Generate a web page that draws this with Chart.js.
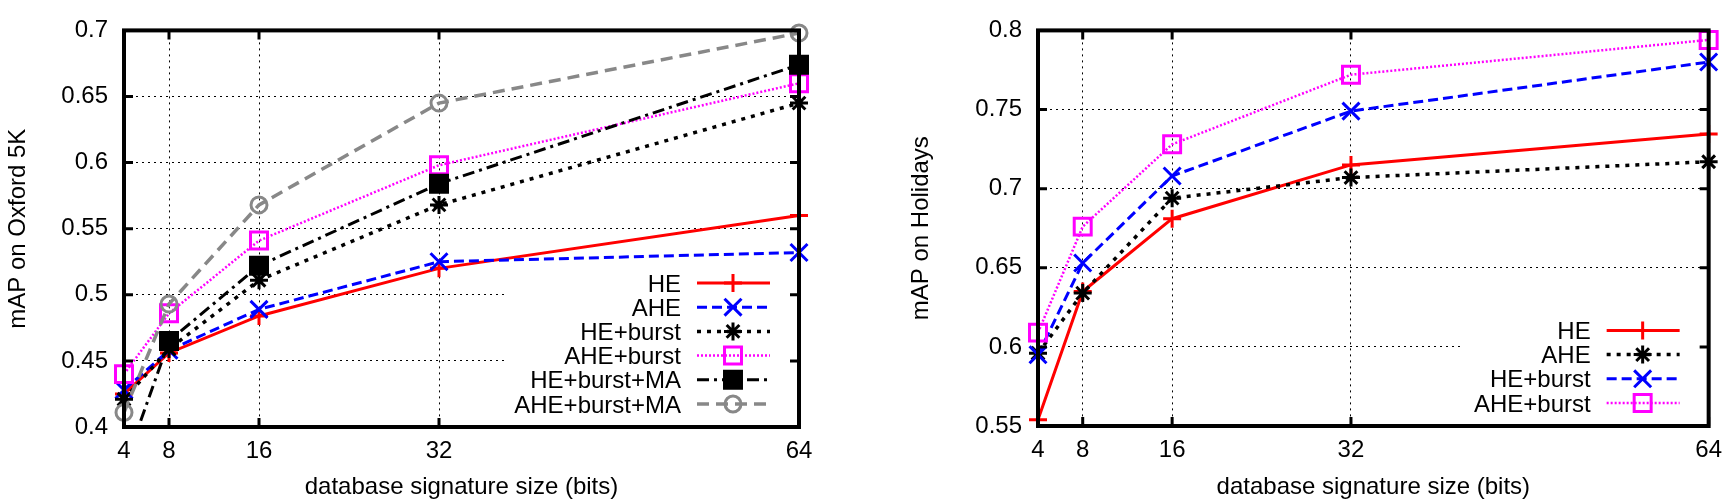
<!DOCTYPE html>
<html>
<head>
<meta charset="utf-8">
<script src="https://cdn.jsdelivr.net/npm/chart.js@4/dist/chart.umd.min.js"></script>
<style>
html, body { margin: 0; padding: 0; background: #fff; }
.panel { position: absolute; top: 0; width: 866px; height: 502px; }
</style>
</head>
<body>
<div class="panel" style="left:0"><canvas id="oxford" width="866" height="502"></canvas></div>
<div class="panel" style="left:866px"><canvas id="holidays" width="866" height="502"></canvas></div>
<script>
// signature sizes (x) and axis ticks
var bits = [4, 8, 16, 32, 64];
var oxfordTicks = [0.4, 0.45, 0.5, 0.55, 0.6, 0.65, 0.7];
var holidaysTicks = [0.55, 0.6, 0.65, 0.7, 0.75, 0.8];

// mAP on Oxford 5K
var oxHE = [0.425, 0.456, 0.484, 0.520, 0.560];
var oxAHE = [0.428, 0.458, 0.489, 0.525, 0.532];
var oxHEburst = [0.421, 0.459, 0.511, 0.568, 0.645];
var oxAHEburst = [0.440, 0.486, 0.541, 0.598, 0.660];
var oxHEburstMA = [0.369, 0.465, 0.522, 0.584, 0.674];
var oxAHEburstMA = [0.411, 0.493, 0.568, 0.645, 0.698];

// mAP on Holidays
var hoHE = [0.554, 0.635, 0.681, 0.715, 0.7345];
var hoAHE = [0.596, 0.634, 0.694, 0.707, 0.717];
var hoHEburst = [0.595, 0.653, 0.708, 0.749, 0.780];
var hoAHEburst = [0.609, 0.676, 0.728, 0.772, 0.794];

var FONT = '"Liberation Sans", Arial, Helvetica, sans-serif';
var FSIZE = 24;

function series(label, values, color, dash, width, mark, r, fill) {
  return {
    label: label,
    data: values.map(function (v, i) { return { x: bits[i], y: v }; }),
    borderColor: color,
    borderWidth: width,
    borderDash: dash,
    pointStyle: mark,
    pointRadius: r,
    pointBorderColor: color,
    pointBorderWidth: 3,
    pointBackgroundColor: fill ? color : 'rgba(0,0,0,0)',
    tension: 0,
    clip: { left: 20, top: 20, right: 20, bottom: 0 }
  };
}

function drawMark(ctx, style, x, y, r, stroke, fill, lw) {
  ctx.save();
  ctx.strokeStyle = stroke;
  ctx.fillStyle = fill;
  ctx.lineWidth = lw;
  ctx.setLineDash([]);
  ctx.beginPath();
  if (style === 'rect') {
    var s = r * Math.SQRT1_2;
    ctx.rect(x - s, y - s, 2 * s, 2 * s);
    ctx.fill();
    ctx.stroke();
  } else if (style === 'circle') {
    ctx.arc(x, y, r, 0, Math.PI * 2);
    ctx.fill();
    ctx.stroke();
  } else {
    if (style === 'cross' || style === 'star') {
      ctx.moveTo(x, y - r); ctx.lineTo(x, y + r);
      ctx.moveTo(x - r, y); ctx.lineTo(x + r, y);
    }
    if (style === 'crossRot' || style === 'star') {
      var d = r * Math.SQRT1_2;
      ctx.moveTo(x - d, y - d); ctx.lineTo(x + d, y + d);
      ctx.moveTo(x - d, y + d); ctx.lineTo(x + d, y - d);
    }
    ctx.stroke();
  }
  ctx.restore();
}

// gnuplot look: blank key area, inward ticks, heavy border, key
var gnuplotLook = {
  id: 'gnuplotLook',
  beforeDatasetsDraw: function (chart, args, opts) {
    var a = chart.chartArea, ctx = chart.ctx;
    ctx.save();
    ctx.fillStyle = '#fff';
    ctx.fillRect(opts.maskX, opts.maskY, a.right - opts.maskX, a.bottom - opts.maskY);
    ctx.restore();
  },
  afterDatasetsDraw: function (chart, args, opts) {
    var a = chart.chartArea, ctx = chart.ctx;
    var xs = chart.scales.x, ys = chart.scales.y;
    ctx.save();
    ctx.strokeStyle = '#000';
    ctx.lineWidth = 3;
    ctx.beginPath();
    xs.ticks.forEach(function (t) {
      var px = xs.getPixelForValue(t.value);
      ctx.moveTo(px, a.bottom); ctx.lineTo(px, a.bottom - 9);
      ctx.moveTo(px, a.top); ctx.lineTo(px, a.top + 9);
    });
    ys.ticks.forEach(function (t) {
      var py = ys.getPixelForValue(t.value);
      ctx.moveTo(a.left, py); ctx.lineTo(a.left + 9, py);
      ctx.moveTo(a.right, py); ctx.lineTo(a.right - 9, py);
    });
    ctx.stroke();
    ctx.lineWidth = 4;
    ctx.strokeRect(a.left, a.top, a.right - a.left, a.bottom - a.top);

    var list = chart.data.datasets, n = list.length;
    ctx.font = FSIZE + 'px ' + FONT;
    ctx.textAlign = 'right';
    ctx.textBaseline = 'alphabetic';
    list.forEach(function (ds, i) {
      var y = a.bottom - 23 - (n - 1 - i) * 24.2;
      ctx.fillStyle = '#000';
      ctx.fillText(ds.label, a.right - 118, y + 8.6);
      ctx.strokeStyle = ds.borderColor;
      ctx.lineWidth = ds.borderWidth;
      ctx.setLineDash(ds.borderDash || []);
      ctx.beginPath();
      ctx.moveTo(a.right - 102, y);
      ctx.lineTo(a.right - 29, y);
      ctx.stroke();
      ctx.setLineDash([]);
      drawMark(ctx, ds.pointStyle, a.right - 66, y, ds.pointRadius, ds.pointBorderColor, ds.pointBackgroundColor, ds.pointBorderWidth);
    });
    ctx.restore();
  }
};

function gridColor(c) {
  var v = c.tick ? c.tick.value : null;
  return (v === c.scale.min || v === c.scale.max) ? 'rgba(0,0,0,0)' : '#000';
}

function makeChart(id, sets, yTicks, yMin, yMax, yTitle, geo) {
  sets.forEach(function (ds, i) { ds.order = sets.length - i; });
  return new Chart(document.getElementById(id), {
    type: 'line',
    data: { datasets: sets },
    plugins: [gnuplotLook],
    options: {
      responsive: false,
      animation: false,
      events: [],
      devicePixelRatio: 1,
      layout: { padding: { left: 0, top: geo.top, right: geo.right, bottom: 0 } },
      plugins: {
        legend: { display: false },
        tooltip: { enabled: false },
        gnuplotLook: { maskX: geo.maskX, maskY: geo.maskY }
      },
      scales: {
        x: {
          type: 'linear', min: 4, max: 64,
          afterBuildTicks: function (s) { s.ticks = bits.map(function (v) { return { value: v }; }); },
          afterFit: function (s) { s.height = geo.xHeight; },
          grid: { color: gridColor, lineWidth: 1, drawTicks: false },
          border: { display: false, dash: [2, 4] },
          ticks: { autoSkip: false, maxRotation: 0, padding: 10, color: '#000', font: { family: FONT, size: FSIZE } },
          title: { display: true, text: 'database signature size (bits)', color: '#000', font: { family: FONT, size: FSIZE }, padding: { top: 0, bottom: 0 } }
        },
        y: {
          type: 'linear', min: yMin, max: yMax,
          afterBuildTicks: function (s) { s.ticks = yTicks.map(function (v) { return { value: v }; }); },
          afterFit: function (s) { s.width = geo.yWidth; },
          grid: { color: gridColor, lineWidth: 1, drawTicks: false },
          border: { display: false, dash: [2, 4] },
          ticks: {
            autoSkip: false, padding: 16, color: '#000', font: { family: FONT, size: FSIZE },
            callback: function (v) { return String(+Number(v).toFixed(2)); }
          },
          title: { display: true, text: yTitle, color: '#000', font: { family: FONT, size: FSIZE }, padding: { top: geo.titlePad, bottom: 0 } }
        }
      }
    }
  });
}

makeChart('oxford', [
  series('HE', oxHE, '#ff0000', [], 3, 'cross', 9, false),
  series('AHE', oxAHE, '#0000ff', [10, 5], 3, 'crossRot', 12, false),
  series('HE+burst', oxHEburst, '#000000', [4, 6], 3.5, 'star', 9, false),
  series('AHE+burst', oxAHEburst, '#ff00ff', [2, 2], 2.5, 'rect', 12, false),
  series('HE+burst+MA', oxHEburstMA, '#000000', [12, 5, 3, 5], 3, 'rect', 12, true),
  series('AHE+burst+MA', oxAHEburstMA, '#888888', [12, 7], 3.5, 'circle', 8, false)
], oxfordTicks, 0.4, 0.7, 'mAP on Oxford 5K',
  { top: 11, right: 67, yWidth: 124, xHeight: 75, titlePad: 4, maskX: 507, maskY: 268 });

makeChart('holidays', [
  series('HE', hoHE, '#ff0000', [], 3, 'cross', 9, false),
  series('AHE', hoAHE, '#000000', [4, 6], 3.5, 'star', 9, false),
  series('HE+burst', hoHEburst, '#0000ff', [10, 5], 3, 'crossRot', 12, false),
  series('AHE+burst', hoAHEburst, '#ff00ff', [2, 2], 2.5, 'rect', 12, false)
], holidaysTicks, 0.55, 0.8, 'mAP on Holidays',
  { top: 10, right: 19, yWidth: 172, xHeight: 76, titlePad: 41, maskX: 596, maskY: 318 });
</script>
</body>
</html>
